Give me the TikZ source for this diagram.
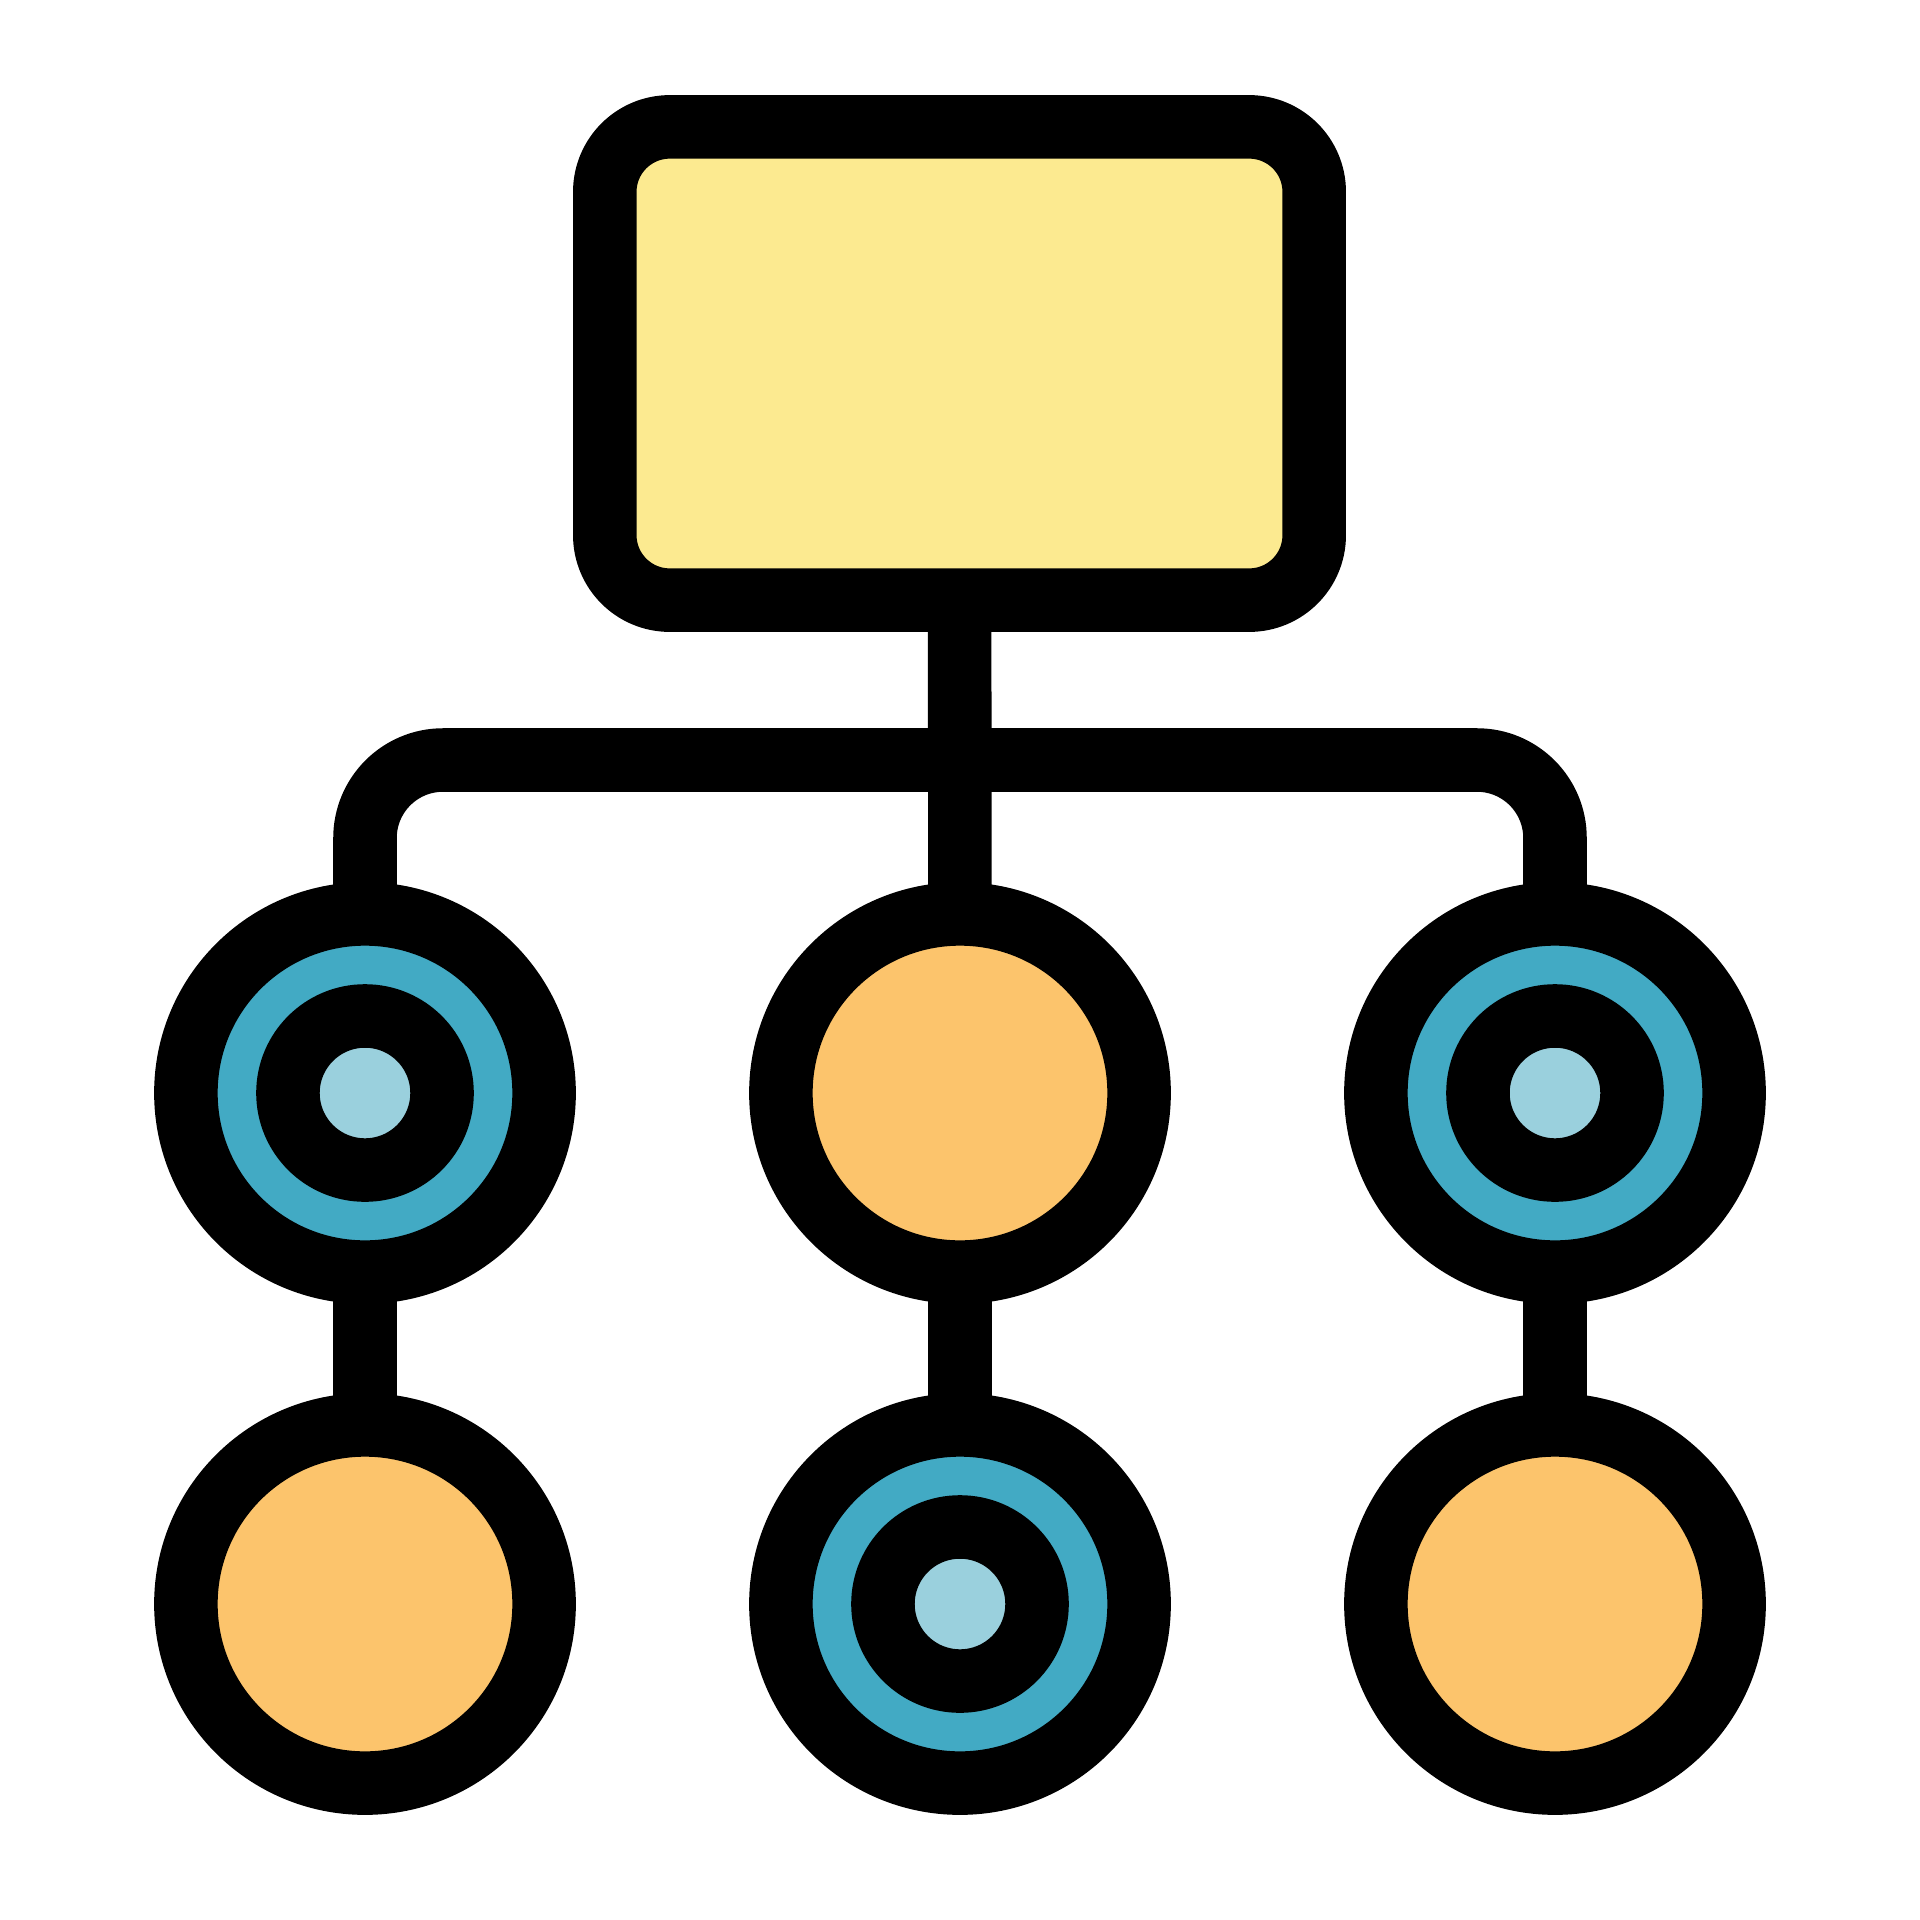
\documentclass[tikz,border=0pt]{standalone}
\usetikzlibrary{backgrounds}

\definecolor{boxyellow}{HTML}{FCEA90}
\definecolor{hubblue}{HTML}{42AAC4}
\definecolor{dotblue}{HTML}{9AD0DD}
\definecolor{leaforange}{HTML}{FCC46C}

\tikzset{
    wire/.style={draw=black, line width=0.635cm},
    topbox/.style={wire, fill=boxyellow, rectangle, rounded corners=0.65cm,
        minimum width=7.09cm, minimum height=4.73cm},
    hub/.style={wire, circle, minimum size=3.58cm, inner sep=0pt},
    dot/.style={wire, circle, fill=dotblue, minimum size=1.54cm, inner sep=0pt}
}

\begin{document}
\begin{tikzpicture}[x=0.01cm, y=-0.01cm]
    \useasboundingbox (0, 0) rectangle (1920, 1920);

    \coordinate (L) at (365, 1093);
    \coordinate (M) at (960, 1093);
    \coordinate (R) at (1555, 1093);
    \coordinate (bus) at (960, 760);

    \node[topbox] (top) at (959.5, 363.5) {};

    % upper row
    \node[hub, fill=hubblue] (l1) at (L) {};
    \node[hub, fill=leaforange] (m1) at (M) {};
    \node[hub, fill=hubblue] (r1) at (R) {};
    \node[dot] (l1d) at (l1) {};
    \node[dot] (r1d) at (r1) {};

    % lower row
    \node[hub, fill=leaforange] (l2) at (365, 1604) {};
    \node[hub, fill=hubblue] (m2) at (960, 1604) {};
    \node[hub, fill=leaforange] (r2) at (1555, 1604) {};
    \node[dot] (m2d) at (m2) {};

    \begin{scope}[on background layer]
        \draw[wire] (top.center) -- (m1.center); % trunk
        \draw[wire, rounded corners=0.78cm] (l1.center) |- (bus) -| (r1.center); % bus
        \draw[wire] (l1.center) -- (l2.center);
        \draw[wire] (m1.center) -- (m2.center);
        \draw[wire] (r1.center) -- (r2.center);
    \end{scope}
\end{tikzpicture}
\end{document}
